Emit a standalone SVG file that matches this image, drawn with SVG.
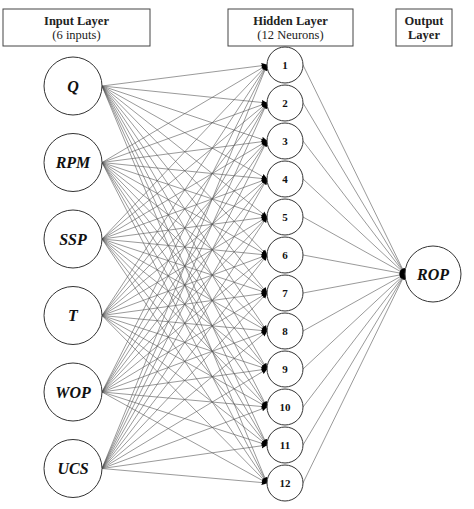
<svg xmlns="http://www.w3.org/2000/svg" width="474" height="509" viewBox="0 0 474 509">
<style>
.box{fill:#fff;stroke:#444;stroke-width:1}
.node{fill:#fff;stroke:#333;stroke-width:1}
.hdr{font-family:"Liberation Serif",serif;font-size:12.5px;fill:#222;text-anchor:middle}
.b{font-weight:bold}
.in{font-family:"Liberation Serif",serif;font-size:16px;font-weight:bold;font-style:italic;fill:#111;text-anchor:middle}
.num{font-family:"Liberation Serif",serif;font-size:11px;font-weight:bold;fill:#111;text-anchor:middle}
.c line{stroke:#555;stroke-width:0.6;marker-end:url(#ah)}
</style>
<defs>
<marker id="ah" viewBox="0 0 8 8" refX="7.5" refY="4" markerWidth="6" markerHeight="6" markerUnits="userSpaceOnUse" orient="auto">
<path d="M0,0.5 Q4,2 8,4 Q4,6 0,7.5 Q2,4 0,0.5 z" fill="#000"/>
</marker>
</defs>
<rect width="474" height="509" fill="#fff"/>
<g id="hdr-input"><rect class="box" x="3" y="9" width="147" height="37"/><text class="hdr b" x="76.5" y="25">Input Layer</text><text class="hdr" x="76.5" y="39">(6 inputs)</text></g>
<g id="hdr-hidden"><rect class="box" x="228" y="9" width="125" height="37"/><text class="hdr b" x="290.5" y="25">Hidden Layer</text><text class="hdr" x="290.5" y="39">(12 Neurons)</text></g>
<g id="hdr-output"><rect class="box" x="396" y="9" width="56" height="37"/><text class="hdr b" x="424" y="25">Output</text><text class="hdr b" x="424" y="39">Layer</text></g>
<g class="c" id="connectors">
<line x1="102" y1="86" x2="267" y2="65"/><line x1="102" y1="86" x2="267" y2="103"/><line x1="102" y1="86" x2="267" y2="141"/><line x1="102" y1="86" x2="267" y2="179"/><line x1="102" y1="86" x2="267" y2="217"/><line x1="102" y1="86" x2="267" y2="255"/><line x1="102" y1="86" x2="267" y2="293"/><line x1="102" y1="86" x2="267" y2="331"/><line x1="102" y1="86" x2="267" y2="369"/><line x1="102" y1="86" x2="267" y2="407"/><line x1="102" y1="86" x2="267" y2="445"/><line x1="102" y1="86" x2="267" y2="483"/>
<line x1="102" y1="162.5" x2="267" y2="65"/><line x1="102" y1="162.5" x2="267" y2="103"/><line x1="102" y1="162.5" x2="267" y2="141"/><line x1="102" y1="162.5" x2="267" y2="179"/><line x1="102" y1="162.5" x2="267" y2="217"/><line x1="102" y1="162.5" x2="267" y2="255"/><line x1="102" y1="162.5" x2="267" y2="293"/><line x1="102" y1="162.5" x2="267" y2="331"/><line x1="102" y1="162.5" x2="267" y2="369"/><line x1="102" y1="162.5" x2="267" y2="407"/><line x1="102" y1="162.5" x2="267" y2="445"/><line x1="102" y1="162.5" x2="267" y2="483"/>
<line x1="102" y1="239" x2="267" y2="65"/><line x1="102" y1="239" x2="267" y2="103"/><line x1="102" y1="239" x2="267" y2="141"/><line x1="102" y1="239" x2="267" y2="179"/><line x1="102" y1="239" x2="267" y2="217"/><line x1="102" y1="239" x2="267" y2="255"/><line x1="102" y1="239" x2="267" y2="293"/><line x1="102" y1="239" x2="267" y2="331"/><line x1="102" y1="239" x2="267" y2="369"/><line x1="102" y1="239" x2="267" y2="407"/><line x1="102" y1="239" x2="267" y2="445"/><line x1="102" y1="239" x2="267" y2="483"/>
<line x1="102" y1="315.5" x2="267" y2="65"/><line x1="102" y1="315.5" x2="267" y2="103"/><line x1="102" y1="315.5" x2="267" y2="141"/><line x1="102" y1="315.5" x2="267" y2="179"/><line x1="102" y1="315.5" x2="267" y2="217"/><line x1="102" y1="315.5" x2="267" y2="255"/><line x1="102" y1="315.5" x2="267" y2="293"/><line x1="102" y1="315.5" x2="267" y2="331"/><line x1="102" y1="315.5" x2="267" y2="369"/><line x1="102" y1="315.5" x2="267" y2="407"/><line x1="102" y1="315.5" x2="267" y2="445"/><line x1="102" y1="315.5" x2="267" y2="483"/>
<line x1="102" y1="392" x2="267" y2="65"/><line x1="102" y1="392" x2="267" y2="103"/><line x1="102" y1="392" x2="267" y2="141"/><line x1="102" y1="392" x2="267" y2="179"/><line x1="102" y1="392" x2="267" y2="217"/><line x1="102" y1="392" x2="267" y2="255"/><line x1="102" y1="392" x2="267" y2="293"/><line x1="102" y1="392" x2="267" y2="331"/><line x1="102" y1="392" x2="267" y2="369"/><line x1="102" y1="392" x2="267" y2="407"/><line x1="102" y1="392" x2="267" y2="445"/><line x1="102" y1="392" x2="267" y2="483"/>
<line x1="102" y1="468.5" x2="267" y2="65"/><line x1="102" y1="468.5" x2="267" y2="103"/><line x1="102" y1="468.5" x2="267" y2="141"/><line x1="102" y1="468.5" x2="267" y2="179"/><line x1="102" y1="468.5" x2="267" y2="217"/><line x1="102" y1="468.5" x2="267" y2="255"/><line x1="102" y1="468.5" x2="267" y2="293"/><line x1="102" y1="468.5" x2="267" y2="331"/><line x1="102" y1="468.5" x2="267" y2="369"/><line x1="102" y1="468.5" x2="267" y2="407"/><line x1="102" y1="468.5" x2="267" y2="445"/><line x1="102" y1="468.5" x2="267" y2="483"/>
<line x1="303" y1="65" x2="405" y2="274"/><line x1="303" y1="103" x2="405" y2="274"/><line x1="303" y1="141" x2="405" y2="274"/><line x1="303" y1="179" x2="405" y2="274"/><line x1="303" y1="217" x2="405" y2="274"/><line x1="303" y1="255" x2="405" y2="274"/><line x1="303" y1="293" x2="405" y2="274"/><line x1="303" y1="331" x2="405" y2="274"/><line x1="303" y1="369" x2="405" y2="274"/><line x1="303" y1="407" x2="405" y2="274"/><line x1="303" y1="445" x2="405" y2="274"/><line x1="303" y1="483" x2="405" y2="274"/>
</g>
<g id="in-Q"><circle class="node" cx="73" cy="86" r="29"/><text class="in" x="73" y="91.5">Q</text></g>
<g id="in-RPM"><circle class="node" cx="73" cy="162.5" r="29"/><text class="in" x="73" y="168">RPM</text></g>
<g id="in-SSP"><circle class="node" cx="73" cy="239" r="29"/><text class="in" x="73" y="244.5">SSP</text></g>
<g id="in-T"><circle class="node" cx="73" cy="315.5" r="29"/><text class="in" x="73" y="321">T</text></g>
<g id="in-WOP"><circle class="node" cx="73" cy="392" r="29"/><text class="in" x="73" y="397.5">WOP</text></g>
<g id="in-UCS"><circle class="node" cx="73" cy="468.5" r="29"/><text class="in" x="73" y="474">UCS</text></g>
<g id="h1"><circle class="node" cx="285" cy="65" r="18"/><text class="num" x="285" y="69">1</text></g>
<g id="h2"><circle class="node" cx="285" cy="103" r="18"/><text class="num" x="285" y="107">2</text></g>
<g id="h3"><circle class="node" cx="285" cy="141" r="18"/><text class="num" x="285" y="145">3</text></g>
<g id="h4"><circle class="node" cx="285" cy="179" r="18"/><text class="num" x="285" y="183">4</text></g>
<g id="h5"><circle class="node" cx="285" cy="217" r="18"/><text class="num" x="285" y="221">5</text></g>
<g id="h6"><circle class="node" cx="285" cy="255" r="18"/><text class="num" x="285" y="259">6</text></g>
<g id="h7"><circle class="node" cx="285" cy="293" r="18"/><text class="num" x="285" y="297">7</text></g>
<g id="h8"><circle class="node" cx="285" cy="331" r="18"/><text class="num" x="285" y="335">8</text></g>
<g id="h9"><circle class="node" cx="285" cy="369" r="18"/><text class="num" x="285" y="373">9</text></g>
<g id="h10"><circle class="node" cx="285" cy="407" r="18"/><text class="num" x="285" y="411">10</text></g>
<g id="h11"><circle class="node" cx="285" cy="445" r="18"/><text class="num" x="285" y="449">11</text></g>
<g id="h12"><circle class="node" cx="285" cy="483" r="18"/><text class="num" x="285" y="487">12</text></g>
<g id="out-ROP"><circle class="node" cx="433" cy="274" r="28"/><text class="in" x="433" y="279.5">ROP</text></g>
</svg>
